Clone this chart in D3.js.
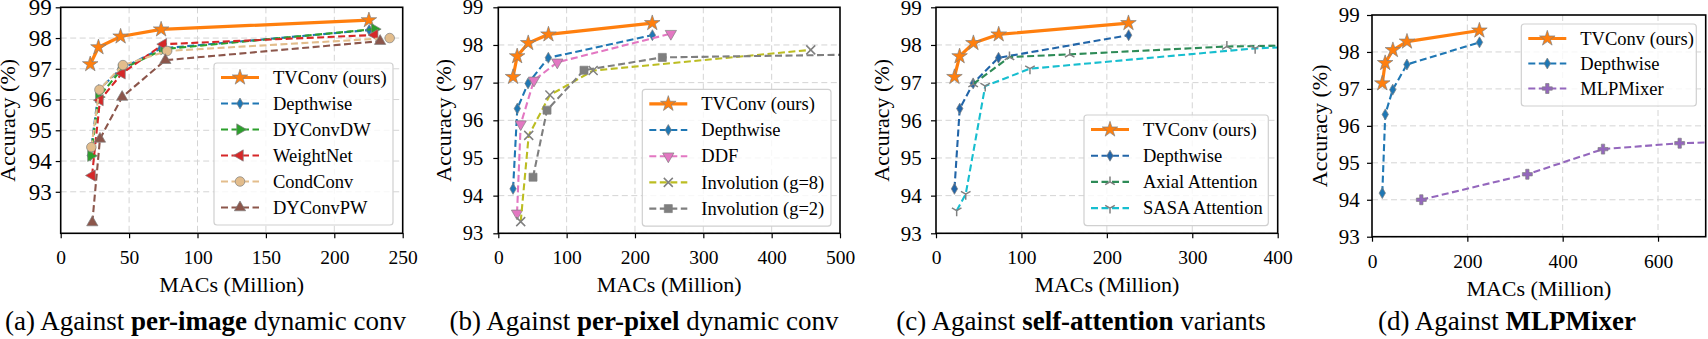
<!DOCTYPE html>
<html>
<head>
<meta charset="utf-8">
<script src="https://cdn.jsdelivr.net/npm/d3@7"></script>
<style>
  body { margin: 0; background: #fff; }
  svg, svg text { font-family: "Liberation Serif", "Times New Roman", serif; }
</style>
</head>
<body>
<svg id="chart" width="1708" height="339"></svg>
<script>
// ---- data (MACs in millions, accuracy in %) ----
var tvconvMacs = [21.6, 27.6, 43.8, 73.4, 225.3]
var tvconvAcc = [97.15, 97.7, 98.05, 98.28, 98.58]
var depthwiseMacs = [21.6, 27.8, 43.5, 73.2, 225.5]
var depthwiseAcc = [94.18, 96.31, 96.98, 97.66, 98.26]
var dyconvdwMacs = [22.1, 27.8, 44.5, 75.5, 229.5]
var dyconvdwAcc = [94.17, 96.08, 96.98, 97.64, 98.29]
var weightnetMacs = [22.9, 28.7, 44.8, 75, 229.5]
var weightnetAcc = [93.53, 95.98, 96.85, 97.8, 98.1]
var condconvMacs = [22.4, 28.3, 45.5, 77.8, 240.5]
var condconvAcc = [94.45, 96.32, 97.12, 97.58, 98.0]
var dyconvpwMacs = [23.1, 28.7, 44.9, 76.5, 233.5]
var dyconvpwAcc = [92.0, 94.72, 96.08, 97.28, 97.9]
var ddfMacs = [27.4, 32.8, 52.2, 86.3, 252.5]
var ddfAcc = [93.53, 95.9, 97.06, 97.54, 98.3]
var inv8Macs = [32.8, 44.5, 75.5, 138.8, 457.2]
var inv8Acc = [93.31, 95.6, 96.67, 97.32, 97.87]
var inv2Macs = [50.8, 71.3, 125.4, 240, 960]
var inv2Acc = [94.49, 96.27, 97.33, 97.67, 97.86]
var axialMacs = [43.5, 86, 156.5, 340.5, 620]
var axialAcc = [96.96, 97.68, 97.75, 97.96, 98.05]
var sasaMacs = [24.2, 34.8, 57.6, 110, 373.6, 700]
var sasaAcc = [93.6, 94.04, 96.91, 97.37, 97.91, 98.2]
var mlpmixerMacs = [103.5, 325.9, 484.6, 645.4, 1000]
var mlpmixerAcc = [94.0, 94.69, 95.37, 95.53, 95.65]

var yTicks = [93, 94, 95, 96, 97, 98, 99]
var xTicksA = [0, 50, 100, 150, 200, 250]
var xTicksB = [0, 100, 200, 300, 400, 500]
var xTicksC = [0, 100, 200, 300, 400]
var xTicksD = [0, 200, 400, 600]

function series(name, macs, acc, color, marker, solid) {
  return { name: name, pts: macs.map(function (m, i) { return [m, acc[i]] }), color: color, marker: marker, solid: !!solid }
}

var tv = series("TVConv (ours)", tvconvMacs, tvconvAcc, "#ff7f0e", "star", true)
var dw = series("Depthwise", depthwiseMacs, depthwiseAcc, "#1f77b4", "thin_diamond")

var panels = [
  {
    left: 60.7, right: 402.7, top: 7.3, bottom: 233.3, xDomain: [0, 250], yDomain: [91.65, 99],
    xTicks: xTicksA, yPad: 4, yFont: 23, yLabelX: 15, capX: 205.5,
    cap: ["(a) Against ", "per-image", " dynamic conv"],
    legend: { x: 214, y: 63, w: 179, step: 26 },
    series: [tv, dw,
      series("DYConvDW", dyconvdwMacs, dyconvdwAcc, "#2ca02c", "tri_right"),
      series("WeightNet", weightnetMacs, weightnetAcc, "#d62728", "tri_left"),
      series("CondConv", condconvMacs, condconvAcc, "#e3bd8c", "circle"),
      series("DYConvPW", dyconvpwMacs, dyconvpwAcc, "#8c564b", "tri_up")]
  },
  {
    left: 498.3, right: 840, top: 7.3, bottom: 233.3, xDomain: [0, 500], yDomain: [93, 99],
    xTicks: xTicksB, yPad: 10, yFont: 20.5, yLabelX: 450.7, capX: 644,
    cap: ["(b) Against ", "per-pixel", " dynamic conv"],
    legend: { x: 642.3, y: 89.3, w: 188.7, step: 26.2 },
    series: [tv, dw,
      series("DDF", ddfMacs, ddfAcc, "#e377c2", "tri_down"),
      series("Involution (g=8)", inv8Macs, inv8Acc, "#bcbd22", "x"),
      series("Involution (g=2)", inv2Macs, inv2Acc, "#7f7f7f", "square")]
  },
  {
    left: 936, right: 1277.7, top: 7.3, bottom: 233.3, xDomain: [0, 400], yDomain: [93, 99],
    xTicks: xTicksC, yPad: 9.3, yFont: 21, yLabelX: 889.3, capX: 1081,
    cap: ["(c) Against ", "self-attention", " variants"],
    legend: { x: 1084, y: 115, w: 184.3, step: 26.2 },
    series: [tv, series("Depthwise", depthwiseMacs, depthwiseAcc, "#2265a8", "thin_diamond"),
      series("Axial Attention", axialMacs, axialAcc, "#2e8b57", "tri2"),
      series("SASA Attention", sasaMacs, sasaAcc, "#17becf", "tri1")]
  },
  {
    left: 1372, right: 1705.7, top: 15, bottom: 236.7, xDomain: [0, 700], yDomain: [93, 99],
    xTicks: xTicksD, yPad: 7.3, yFont: 21, yLabelX: 1327.3, capX: 1507,
    cap: ["(d) Against ", "MLPMixer", ""],
    legend: { x: 1521.3, y: 24, w: 175, step: 25 },
    series: [tv, dw,
      series("MLPMixer", mlpmixerMacs, mlpmixerAcc, "#9467bd", "plus")]
  }
]

var svg = d3.select("#chart")
var edge = "#808080"
var serif = "'Liberation Serif', 'Times New Roman', serif"

function markerPath(type) {
  switch (type) {
    case "star": return d3.symbol(d3.symbolStar, 75)()
    case "thin_diamond": return "M0,-5.5L3.2,0L0,5.5L-3.2,0Z"
    case "circle": return d3.symbol(d3.symbolCircle, 72)()
    case "square": return d3.symbol(d3.symbolSquare, 64)()
    case "plus": return d3.symbol(d3.symbolCross, 55)()
    case "x": return "M-4.5,-4.5L4.5,4.5M-4.5,4.5L4.5,-4.5"
    case "tri2": return "M0,0L0,-5.5M0,0L-4.8,2.8M0,0L4.8,2.8"
    case "tri1": return "M0,0L0,5.5M0,0L-4.8,-2.8M0,0L4.8,-2.8"
    default: return d3.symbol(d3.symbolTriangle, 55)()
  }
}
var rot = { tri_right: 90, tri_left: -90, tri_down: 180 }

function drawMarker(g, s, x, y) {
  var stroked = s.marker == "x" || s.marker == "tri1" || s.marker == "tri2"
  g.append("path")
    .attr("d", markerPath(s.marker))
    .attr("transform", "translate(" + x + "," + y + ") rotate(" + (rot[s.marker] || 0) + ")")
    .attr("fill", stroked ? "none" : s.color)
    .attr("stroke", edge)
    .attr("stroke-width", stroked ? 1.5 : 0.7)
}

panels.forEach(function (p, pi) {
  var x = d3.scaleLinear().domain(p.xDomain).range([p.left, p.right])
  var y = d3.scaleLinear().domain(p.yDomain).range([p.bottom, p.top])
  var g = svg.append("g")

  g.append("clipPath").attr("id", "clip" + pi)
    .append("rect").attr("x", p.left).attr("y", p.top)
    .attr("width", p.right - p.left).attr("height", p.bottom - p.top)

  // grid
  g.append("g").selectAll("line").data(yTicks.filter(function (t) { return t < p.yDomain[1] }))
    .enter().append("line")
    .attr("x1", p.left).attr("x2", p.right)
    .attr("y1", function (d) { return y(d) }).attr("y2", function (d) { return y(d) })
    .attr("stroke", "#d4d4d4").attr("stroke-width", 1).attr("stroke-dasharray", "6,3.5")
  g.append("g").selectAll("line").data(p.xTicks.filter(function (t) { return t > 0 && t < p.xDomain[1] }))
    .enter().append("line")
    .attr("y1", p.top).attr("y2", p.bottom)
    .attr("x1", function (d) { return x(d) }).attr("x2", function (d) { return x(d) })
    .attr("stroke", "#d4d4d4").attr("stroke-width", 1).attr("stroke-dasharray", "6,3.5")

  var plot = g.append("g").attr("clip-path", "url(#clip" + pi + ")")
  var line = d3.line().x(function (d) { return x(d[0]) }).y(function (d) { return y(d[1]) })

  p.series.forEach(function (s) {
    plot.append("path").datum(s.pts)
      .attr("d", line)
      .attr("fill", "none")
      .attr("stroke", s.color)
      .attr("stroke-width", s.solid ? 3.2 : 2.1)
      .attr("stroke-dasharray", s.solid ? null : "7,3.5")
    s.pts.forEach(function (d) { drawMarker(plot, s, x(d[0]), y(d[1])) })
  })

  // axes
  var xAxis = d3.axisBottom(x).tickValues(p.xTicks).tickSize(5).tickPadding(12).tickFormat(d3.format("d"))
  var yAxis = d3.axisLeft(y).tickValues(yTicks).tickSize(5).tickPadding(p.yPad).tickFormat(d3.format("d"))
  var gx = g.append("g").attr("transform", "translate(0," + p.bottom + ")").call(xAxis)
  var gy = g.append("g").attr("transform", "translate(" + p.left + ",0)").call(yAxis)
  ;[gx, gy].forEach(function (a) {
    a.attr("font-family", serif).attr("font-size", null)
    a.select(".domain").remove()
    a.selectAll("line").attr("stroke", "#000").attr("stroke-width", 1.2)
    a.selectAll("text").attr("fill", "#000")
  })
  gx.selectAll("text").style("font-size", "19.5px")
  gy.selectAll("text").style("font-size", p.yFont + "px")
  g.append("rect").attr("x", p.left).attr("y", p.top)
    .attr("width", p.right - p.left).attr("height", p.bottom - p.top)
    .attr("fill", "none").attr("stroke", "#000").attr("stroke-width", 1.6)

  // axis titles
  var cx = (p.left + p.right) / 2
  g.append("text").attr("x", cx).attr("y", p.bottom + 59)
    .attr("text-anchor", "middle").style("font-size", "22px").text("MACs (Million)")
  g.append("text")
    .attr("transform", "translate(" + p.yLabelX + "," + ((p.top + p.bottom) / 2) + ") rotate(-90)")
    .attr("text-anchor", "middle").style("font-size", "22px").text("Accuracy (%)")

  // caption
  var cap = g.append("text").attr("x", p.capX).attr("y", 330)
    .attr("text-anchor", "middle").style("font-size", "27px")
  cap.append("tspan").text(p.cap[0])
  cap.append("tspan").attr("font-weight", "bold").text(p.cap[1])
  cap.append("tspan").text(p.cap[2])

  // legend
  var L = p.legend
  var n = p.series.length
  var lg = g.append("g")
  lg.append("rect").attr("x", L.x).attr("y", L.y).attr("width", L.w)
    .attr("height", 29 + (n - 1) * L.step + 3).attr("rx", 3)
    .attr("fill", "#fff").attr("fill-opacity", 0.8).attr("stroke", "#d0d0d0").attr("stroke-width", 1.2)
  p.series.forEach(function (s, i) {
    var ly = L.y + 14.5 + i * L.step
    lg.append("line").attr("x1", L.x + 7).attr("x2", L.x + 45).attr("y1", ly).attr("y2", ly)
      .attr("stroke", s.color).attr("stroke-width", s.solid ? 3.2 : 2.1)
      .attr("stroke-dasharray", s.solid ? null : "7,3.5")
    drawMarker(lg, s, L.x + 26, ly)
    lg.append("text").attr("x", L.x + 59).attr("y", ly).attr("dy", "0.33em")
      .style("font-size", "18.5px").text(s.name)
  })
})
</script>
</body>
</html>
